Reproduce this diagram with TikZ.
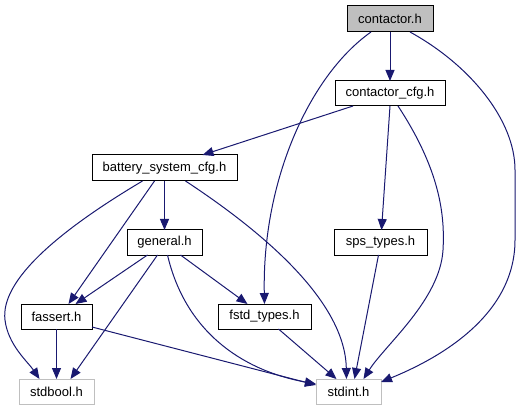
\documentclass[tikz,border=0pt]{standalone}
\usepackage{fontspec}
\setmainfont{Liberation Sans}
\usetikzlibrary{arrows.meta}
\definecolor{edgeblue}{HTML}{191970}
\definecolor{boxgray}{HTML}{BFBFBF}
\tikzset{
  hfile/.style={draw=black, line width=1pt, inner sep=0pt, outer sep=0pt, minimum height=25pt, font=\fontsize{13}{15}\selectfont},
  sysfile/.style={hfile, draw=boxgray},
  dep/.style={draw=edgeblue, line width=1pt, -{Triangle[length=11pt,width=9pt]}}
}
\begin{document}
\begin{tikzpicture}[x=1pt,y=-1pt]
    \useasboundingbox (0,0) rectangle (521,411);
    % files
    \node[hfile, fill=boxgray, minimum width=86pt, minimum height=26pt] (contactor) at (390,19) {contactor.h};
    \node[hfile, minimum width=110pt] (cfg) at (390,93.5) {contactor\_cfg.h};
    \node[hfile, minimum width=145pt, minimum height=26pt] (battery) at (164.5,168) {battery\_system\_cfg.h};
    \node[hfile, minimum width=75pt] (general) at (164.5,242.5) {general.h};
    \node[hfile, minimum width=93pt] (sps) at (380.5,242.5) {sps\_types.h};
    \node[hfile, minimum width=71pt] (fassert) at (56.5,316.5) {fassert.h};
    \node[hfile, minimum width=93pt] (fstd) at (264.5,316.5) {fstd\_types.h};
    \node[sysfile, minimum width=75pt] (stdbool) at (56.5,391.5) {stdbool.h};
    \node[sysfile, minimum width=65pt] (stdint) at (348.5,391.5) {stdint.h};
    % includes
    \draw[dep] (contactor.south) -- (cfg.north);
    \draw[dep] ([xshift=-19pt]contactor.south) .. controls (310,75) and (262,180) .. (fstd.north);
    \draw[dep] ([xshift=20pt]contactor.south) .. controls (470,65) and (515,120) .. (515,170) -- (515,240) .. controls (515,320) and (430,362) .. ([yshift=-3pt]stdint.north east);
    \draw[dep] ([xshift=-37pt]cfg.south) -- ([xshift=38pt]battery.north);
    \draw[dep] (cfg.south) -- ([xshift=1pt]sps.north);
    \draw[dep] ([xshift=8pt]cfg.south) .. controls (440,170) and (445,215) .. (443,250) .. controls (440,300) and (385,345) .. ([xshift=15pt]stdint.north);
    \draw[dep] (battery.south) -- (general.north);
    \draw[dep] ([xshift=-10pt]battery.south) -- ([xshift=12pt]fassert.north);
    \draw[dep] ([xshift=-22pt]battery.south) .. controls (60,230) and (0,280) .. (5,320) .. controls (8,345) and (28,362) .. ([xshift=-17pt]stdbool.north);
    \draw[dep] ([xshift=21pt]battery.south) .. controls (260,230) and (345,300) .. ([xshift=-2pt]stdint.north);
    \draw[dep] ([xshift=-17pt]general.south) -- ([xshift=19pt]fassert.north);
    \draw[dep] ([xshift=-7pt]general.south) -- ([xshift=14pt]stdbool.north);
    \draw[dep] ([xshift=3pt]general.south) .. controls (185,330) and (240,370) .. ([yshift=-5pt]stdint.north west);
    \draw[dep] ([xshift=16pt]general.south) -- ([xshift=-17pt]fstd.north);
    \draw[dep] (fassert.south) -- (stdbool.north);
    \draw[dep] ([yshift=2pt]fassert.south east) -- ([yshift=-6pt]stdint.north west);
    \draw[dep] ([xshift=14pt]fstd.south) -- ([xshift=-12pt]stdint.north);
    \draw[dep] ([xshift=-2pt]sps.south) -- ([xshift=6pt]stdint.north);
\end{tikzpicture}
\end{document}
